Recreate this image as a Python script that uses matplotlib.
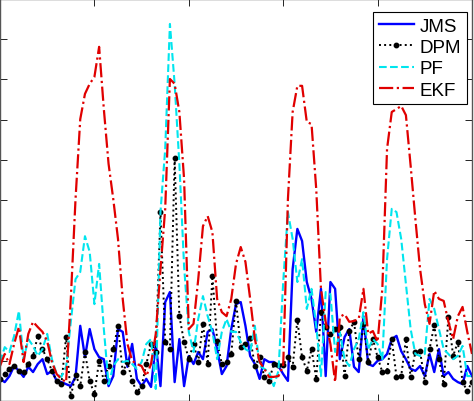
import numpy as np
import matplotlib.pyplot as plt

plt.rcParams['font.family'] = ['Liberation Sans', 'DejaVu Sans']

t = np.arange(0, 101)

jms = [0.55, 0.47, 0.62, 0.87, 0.75, 0.60, 0.85, 0.72, 0.92, 1.04,
       0.67, 0.75, 0.50, 0.47, 0.42, 0.37, 0.60, 1.87, 1.09, 1.79,
       1.29, 1.09, 1.04, 0.37, 0.62, 1.79, 1.72, 0.85, 1.42, 0.55,
       0.37, 0.55, 0.35, 1.42, 0.37, 2.46, 2.71, 0.47, 1.54, 0.37,
       1.12, 0.92, 1.22, 1.04, 1.72, 1.79, 1.29, 0.67, 0.87, 1.79,
       2.41, 2.46, 1.87, 1.12, 0.92, 0.55, 1.04, 0.97, 0.97, 0.87,
       0.67, 0.50, 3.28, 4.28, 3.98, 2.96, 2.54, 1.72, 2.79, 0.62,
       2.96, 2.79, 1.04, 1.59, 1.79, 0.85, 0.72, 2.11, 0.92, 0.87,
       1.00, 1.04, 1.17, 1.54, 1.62, 1.24, 1.04, 0.80, 0.75, 0.87,
       0.62, 1.17, 0.72, 1.29, 0.62, 0.72, 0.55, 0.47, 0.42, 0.87,
       0.62]

dpm = [0.55, 0.67, 0.80, 0.87, 0.75, 0.72, 0.92, 1.12, 1.62, 1.29,
       1.04, 0.75, 0.50, 0.42, 1.59, 0.12, 0.65, 0.37, 1.22, 0.50,
       0.17, 1.00, 0.50, 0.87, 1.29, 1.87, 0.72, 0.97, 0.50, 0.22,
       0.37, 0.92, 1.42, 1.22, 4.70, 1.47, 1.29, 6.04, 2.11, 1.47,
       1.04, 1.42, 0.97, 1.92, 0.92, 3.11, 1.49, 0.92, 0.97, 1.17,
       2.49, 1.34, 1.42, 1.57, 0.87, 1.09, 0.60, 0.50, 0.92, 0.90,
       0.90, 1.09, 0.85, 2.01, 1.09, 0.75, 1.29, 0.55, 2.21, 1.84,
       1.67, 1.79, 1.84, 0.62, 1.74, 1.97, 1.04, 1.92, 0.97, 1.54,
       1.09, 0.72, 0.75, 1.54, 0.60, 0.62, 1.54, 0.60, 1.22, 1.24,
       0.47, 1.29, 1.89, 1.04, 0.42, 2.09, 1.12, 1.47, 0.47, 0.25,
       0.47]

pf = [0.97, 1.34, 1.22, 1.62, 2.24, 1.04, 1.54, 1.37, 1.12, 1.29,
      1.67, 1.04, 0.67, 0.60, 0.85, 1.97, 3.03, 3.21, 4.10, 3.71,
      2.41, 3.41, 1.79, 0.42, 0.87, 1.04, 0.97, 1.00, 0.92, 0.80,
      0.97, 1.42, 1.54, 0.30, 4.70, 6.27, 9.38, 7.89, 5.90, 3.36,
      1.72, 1.22, 2.04, 2.61, 2.11, 1.72, 1.04, 1.72, 2.04, 1.72,
      1.72, 1.47, 1.29, 1.22, 1.87, 0.87, 0.80, 0.72, 0.37, 0.75,
      2.96, 4.70, 4.03, 2.96, 3.53, 2.29, 2.79, 1.87, 0.62, 2.71,
      2.66, 1.22, 1.72, 1.04, 0.87, 1.29, 1.54, 2.21, 1.29, 1.54,
      1.42, 1.04, 3.53, 4.78, 4.70, 4.03, 2.91, 1.79, 1.17, 1.12,
      1.17, 2.54, 2.29, 1.79, 1.29, 1.17, 1.04, 1.12, 1.37, 0.62,
      0.62]

ekf = [0.87, 1.17, 0.92, 1.42, 1.84, 0.97, 1.67, 1.97, 1.84, 1.72,
       1.49, 0.97, 0.67, 0.55, 0.47, 2.54, 5.02, 7.01, 7.64, 7.89,
       8.06, 8.81, 7.26, 5.90, 5.02, 4.03, 2.54, 1.42, 1.00, 0.92,
       0.87, 0.62, 0.92, 1.67, 3.28, 4.78, 8.01, 7.89, 7.19, 5.52,
       1.79, 1.92, 3.03, 4.35, 4.60, 4.20, 2.54, 2.21, 2.11, 2.54,
       3.41, 3.83, 3.46, 2.54, 1.54, 0.97, 0.80, 0.60, 0.60, 0.62,
       0.87, 5.02, 7.19, 7.84, 7.84, 6.94, 6.89, 5.27, 2.79, 1.97,
       1.42, 0.47, 2.09, 2.16, 1.97, 1.99, 2.04, 2.79, 1.67, 1.74,
       1.47, 2.79, 6.27, 7.19, 7.26, 7.34, 7.11, 5.85, 4.53, 3.28,
       2.41, 1.92, 2.74, 2.54, 2.49, 1.97, 1.54, 2.11, 2.34, 1.72,
       1.17]

fig = plt.figure(figsize=(4.74, 4.02), dpi=100)
ax = fig.add_axes([0.0, 0.0, 472 / 474, 1.0])

ax.plot(t, jms, color='#0000ff', linestyle='-', linewidth=1.7, label='JMS')
ax.plot(t, dpm, color='black', linestyle=':', linewidth=1.4, marker='o',
        markersize=3.2, label='DPM')
ax.plot(t, pf, color='#00e5ee', linestyle='--', linewidth=1.5, label='PF')
ax.plot(t, ekf, color='#e00000', linestyle='-.', linewidth=1.6, label='EKF')

ax.set_xlim(0, 100)
ax.set_ylim(0, 10)
ax.set_xticks(np.arange(0, 101, 20))
ax.set_yticks(np.arange(0, 11, 1))
ax.tick_params(direction='in', length=5, width=0.6, top=True, right=True,
               labelbottom=False, labelleft=False)
for s in ax.spines.values():
    s.set_linewidth(1.0)
    s.set_color('#555555')

leg = ax.legend(loc='upper right', bbox_to_anchor=(467 / 472, 389 / 402),
                borderaxespad=0, fontsize=13.5, fancybox=False, framealpha=1,
                edgecolor='black', numpoints=1, handlelength=1.9,
                handletextpad=0.3, labelspacing=0.22, borderpad=0.3)
leg.get_frame().set_linewidth(0.8)

plt.savefig('out.png', dpi=100)
